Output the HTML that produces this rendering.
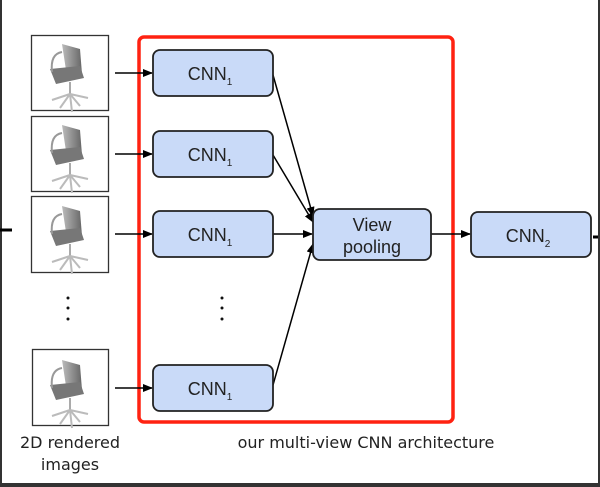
<!DOCTYPE html>
<html><head><style>
html,body{margin:0;padding:0;background:#fff;}
body{width:600px;height:487px;overflow:hidden;position:relative;}
</style></head><body>
<svg width="600" height="487" viewBox="0 0 600 487" xmlns="http://www.w3.org/2000/svg" style="position:absolute;left:0;top:0">
<defs>
<marker id="a" markerWidth="10" markerHeight="8" refX="9" refY="4" orient="auto" markerUnits="userSpaceOnUse"><path d="M0,0 L10,4 L0,8 z" fill="#000"/></marker>
<linearGradient id="g" x1="0" x2="1"><stop offset="0" stop-color="#bbb"/><stop offset="1" stop-color="#666"/></linearGradient>
<g id="chair">
<path d="M-8,-30 L10,-25 L12,0 L-4,-4 z" fill="url(#g)"/>
<path d="M-20,-5 L10,-8 L14,4 L-14,10 z" fill="#777"/>
<path d="M-18,-2 Q-20,-20 -8,-22" stroke="#999" stroke-width="2" fill="none"/>
<line x1="0" y1="8" x2="0" y2="20" stroke="#aaa" stroke-width="2"/>
<path d="M0,20 L-18,26 M0,20 L18,24 M0,20 L-10,34 M0,20 L10,32 M0,20 L2,38" stroke="#bbb" stroke-width="2"/>
</g>
</defs>
<rect x="0" y="0" width="2" height="487" fill="#333"/>
<rect x="598" y="0" width="2" height="487" fill="#333"/>
<rect x="0" y="483" width="600" height="4" fill="#333"/>
<line x1="0" y1="230" x2="12" y2="230" stroke="#000" stroke-width="3"/>
<line x1="593" y1="237" x2="598" y2="237" stroke="#000" stroke-width="3"/>
<g fill="#fff" stroke="#333" stroke-width="1.3">
<rect x="31.5" y="35.5" width="77" height="75"/>
<rect x="31.5" y="116.5" width="77" height="75"/>
<rect x="31.5" y="196.5" width="77" height="76"/>
<rect x="32.5" y="349.5" width="76" height="76"/>
</g>
<use href="#chair" x="70" y="74"/>
<use href="#chair" x="70" y="155"/>
<use href="#chair" x="70" y="236"/>
<use href="#chair" x="70" y="390"/>
<rect x="139" y="37" width="314" height="385" rx="5" fill="none" stroke="#f21" stroke-width="3.5"/>
<g stroke="#000" stroke-width="1.5" fill="none" marker-end="url(#a)">
<line x1="115" y1="73" x2="152" y2="73"/>
<line x1="115" y1="154" x2="152" y2="154"/>
<line x1="115" y1="234" x2="152" y2="234"/>
<line x1="115" y1="388" x2="152" y2="388"/>
<line x1="273" y1="75" x2="313" y2="216"/>
<line x1="273" y1="155" x2="313" y2="222"/>
<line x1="273" y1="234" x2="312" y2="234"/>
<line x1="273" y1="385" x2="313" y2="244"/>
<line x1="431" y1="234" x2="470" y2="234"/>
</g>
<g fill="#c9daf8" stroke="#222" stroke-width="1.8">
<rect x="153" y="50" width="120" height="46" rx="7"/>
<rect x="153" y="131" width="120" height="46" rx="7"/>
<rect x="153" y="211" width="120" height="46" rx="7"/>
<rect x="153" y="365" width="120" height="46" rx="7"/>
<rect x="313" y="209" width="118" height="51" rx="7"/>
<rect x="471" y="212" width="120" height="45" rx="7"/>
</g>
<g font-family="Liberation Sans, sans-serif" font-size="18" fill="#222" text-anchor="middle">
<text x="210" y="80">CNN<tspan font-size="10" dy="5">1</tspan></text>
<text x="210" y="161">CNN<tspan font-size="10" dy="5">1</tspan></text>
<text x="210" y="241">CNN<tspan font-size="10" dy="5">1</tspan></text>
<text x="210" y="395">CNN<tspan font-size="10" dy="5">1</tspan></text>
<text x="528" y="242">CNN<tspan font-size="10" dy="5">2</tspan></text>
<text x="372" y="231">View</text>
<text x="372" y="253">pooling</text>
</g>
<g fill="#111">
<circle cx="68" cy="298" r="1.5"/><circle cx="68" cy="308" r="1.5"/><circle cx="68" cy="319" r="1.5"/>
<circle cx="222" cy="298" r="1.5"/><circle cx="222" cy="308" r="1.5"/><circle cx="222" cy="319" r="1.5"/>
</g>
<g font-family="DejaVu Sans, Liberation Sans, sans-serif" font-size="16" fill="#222" text-anchor="middle">
<text x="70" y="448">2D rendered</text>
<text x="70" y="470">images</text>
<text x="366" y="448">our multi-view CNN architecture</text>
</g>
</svg>
</body></html>
